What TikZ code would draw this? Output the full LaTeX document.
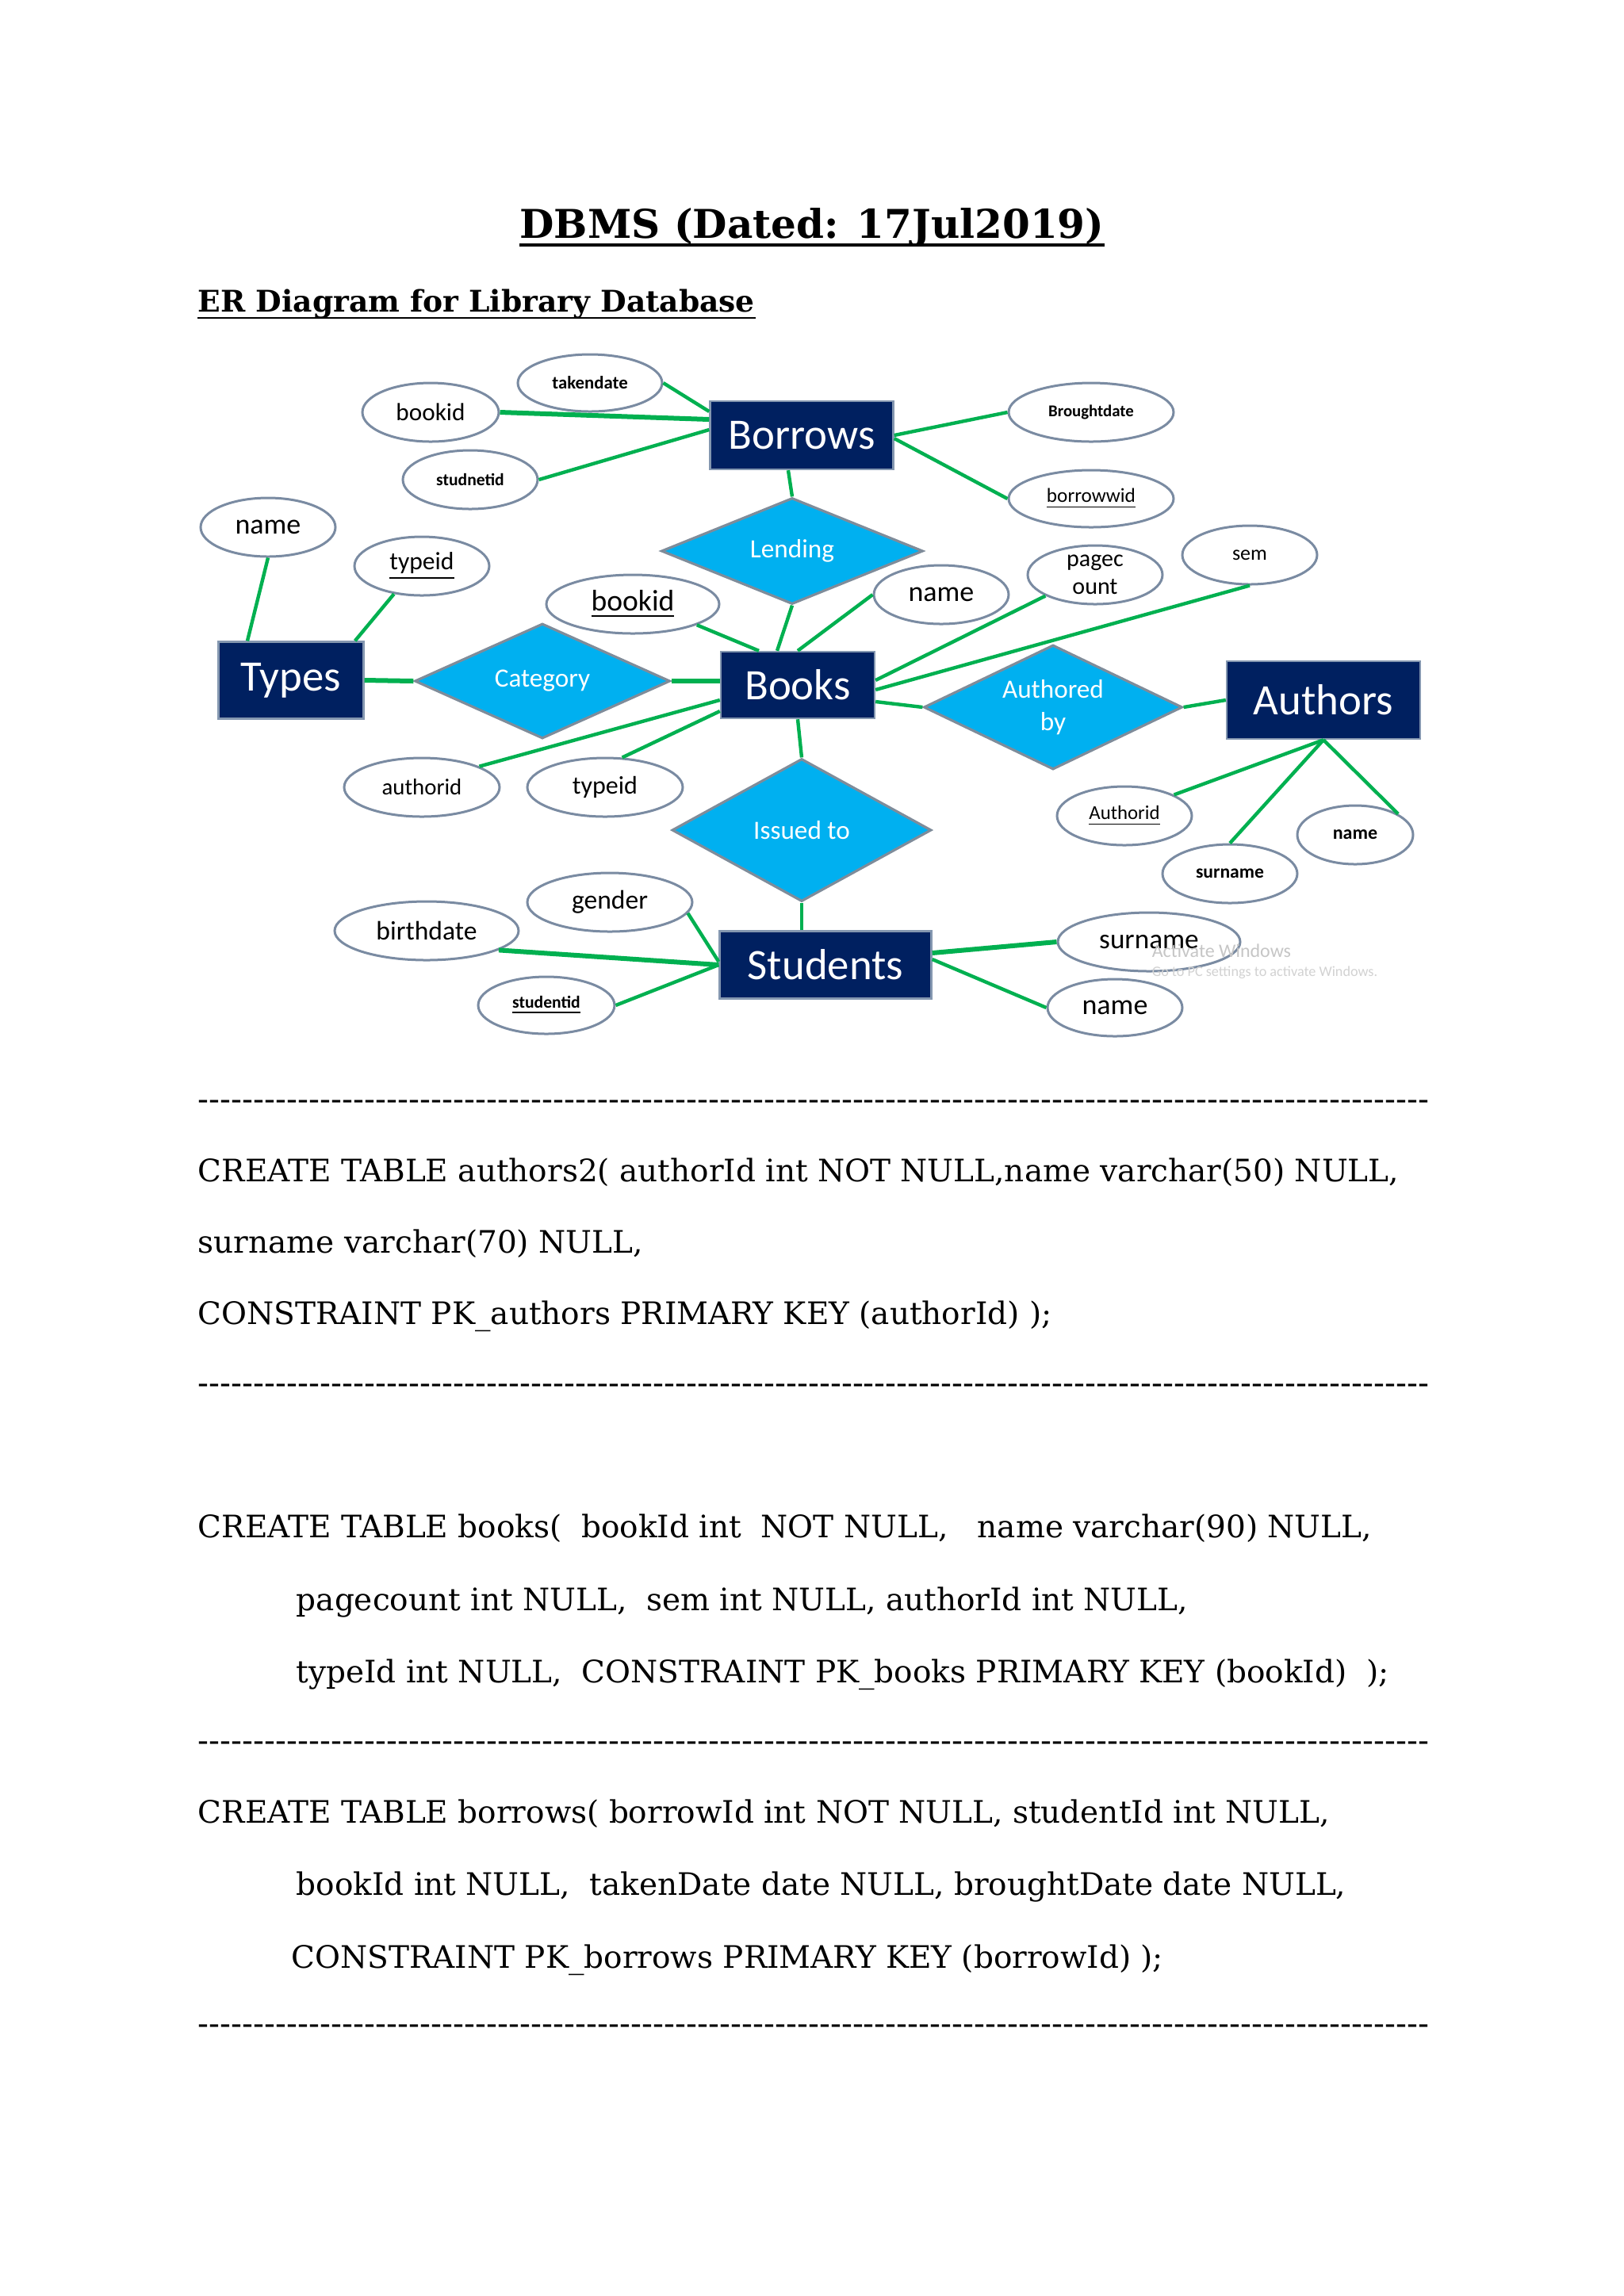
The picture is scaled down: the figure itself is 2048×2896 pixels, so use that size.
\documentclass[tikz,border=0pt]{standalone}
\usepackage{fontspec}
\setmainfont{DejaVu Serif}
\newfontfamily\erfont{Carlito}
\usetikzlibrary{shapes.geometric,calc}
\definecolor{entblue}{HTML}{002060}
\definecolor{entline}{HTML}{8497B0}
\definecolor{relblue}{HTML}{00B0F0}
\definecolor{relline}{HTML}{7F8C9A}
\definecolor{ellline}{HTML}{7A8BA2}
\definecolor{linkgreen}{HTML}{00B050}
\newcommand\ersz[2]{\erfont\fontsize{#1}{#2}\selectfont}
\begin{document}
\begin{tikzpicture}[x=0.25pt, y=-0.25pt,
  entity/.style={rectangle, fill=entblue, draw=entline, line width=0.6pt, text=white, inner sep=0, font=\ersz{13.7}{16}},
  rel/.style={diamond, aspect=2, fill=relblue, draw=relline, line width=0.8pt, text=white, inner sep=0, align=center, font=\ersz{8.3}{10.2}},
  attr/.style={ellipse, fill=white, draw=ellline, line width=0.75pt, inner sep=0, text=black, align=center},
  link/.style={draw=linkgreen, line width=1.1pt},
  thick link/.style={draw=linkgreen, line width=1.5pt},
  body/.style={anchor=base west, inner sep=0, font=\fontsize{9.75}{12}\selectfont},
  dashrow/.style={anchor=base west, inner sep=0, font=\fontsize{10.3}{12}\selectfont}]
\useasboundingbox (0,0) rectangle (2048,2896);
\fill[white] (0,0) rectangle (2048,2896);

% headings
\node[anchor=base, inner sep=0, font=\bfseries\fontsize{12.5}{15}\selectfont] (title) at (1024,300) {DBMS (Dated: 17Jul2019)};
\draw[line width=0.8pt] ($(title.base west)+(0,9)$) -- ($(title.base east)+(0,9)$);
\node[anchor=base west, inner sep=0, font=\bfseries\fontsize{9.4}{11}\selectfont] (subtitle) at (249,393) {ER Diagram for Library Database};
\draw[line width=0.6pt] ($(subtitle.base west)+(0,8)$) -- ($(subtitle.base east)+(0,8)$);

% entities
\node[entity, minimum width=57.75pt, minimum height=21.5pt] (borrows) at (1011,549) {Borrows};
\node[entity, minimum width=48.5pt, minimum height=21pt] (books) at (1006,864) {Books};
\node[entity, minimum width=45.75pt, minimum height=24.25pt] (types) at (367,858) {Types};
\node[entity, minimum width=61pt, minimum height=24.5pt] (authors) at (1669,883) {Authors};
\node[entity, minimum width=66.75pt, minimum height=21.25pt] (students) at (1041,1217) {Students};

% relationships
\node[rel, minimum width=82.5pt, minimum height=33.5pt] (lending) at (999,695) {Lending};
\node[rel, minimum width=80.5pt, minimum height=36.25pt] (category) at (684,859) {Category};
\node[rel, minimum width=81.5pt, minimum height=39.25pt] (authored) at (1328,892) {Authored\\by};
\node[rel, minimum width=81.75pt, minimum height=45pt] (issued) at (1011,1047) {Issued to};

% attributes
\node[attr, minimum width=45.5pt, minimum height=18pt, font=\ersz{5.7}{7}\bfseries] (takendate) at (744,483) {takendate};
\node[attr, minimum width=43pt, minimum height=18.5pt, font=\ersz{7.8}{9}] (bookidb) at (543,520) {bookid};
\node[attr, minimum width=42.5pt, minimum height=18.5pt, font=\ersz{5.4}{7}\bfseries] (studnetid) at (593,605) {studnetid};
\node[attr, minimum width=42.5pt, minimum height=18.5pt, font=\ersz{9}{11}] (namet) at (338,665) {name};
\node[attr, minimum width=42.5pt, minimum height=18.5pt, font=\ersz{7.9}{9}] (typeidt) at (532,714) {\underline{typeid}};
\node[attr, minimum width=54.5pt, minimum height=18.5pt, font=\ersz{9.4}{11}] (bookidbk) at (798,762) {\underline{bookid}};
\node[attr, minimum width=52pt, minimum height=18.5pt, font=\ersz{5.2}{6}\bfseries] (broughtdate) at (1376,520) {Broughtdate};
\node[attr, minimum width=52pt, minimum height=18pt, font=\ersz{6.3}{8}] (borrowwid) at (1376,629) {\underline{borrowwid}};
\node[attr, minimum width=42.5pt, minimum height=18.5pt, font=\ersz{6.5}{8}] (sem) at (1576,700) {sem};
\node[attr, minimum width=42.5pt, minimum height=18.5pt, label={[inner sep=0, align=center, font=\ersz{7.5}{8.75}]center:{pagec\\ount}}] (pagecount) at (1381,725) {};
\node[attr, minimum width=42.5pt, minimum height=18.5pt, font=\ersz{9}{11}] (namebk) at (1187,750) {name};
\node[attr, minimum width=49pt, minimum height=18.5pt, font=\ersz{7.2}{9}] (authorid) at (532,993) {authorid};
\node[attr, minimum width=49pt, minimum height=18.5pt, font=\ersz{8}{10}] (typeidbk) at (763,993) {typeid};
\node[attr, minimum width=52pt, minimum height=18.5pt, font=\ersz{8.4}{10}] (gender) at (769,1138) {gender};
\node[attr, minimum width=58pt, minimum height=18.5pt, font=\ersz{8.4}{10}] (birthdate) at (538,1174) {birthdate};
\node[attr, minimum width=43pt, minimum height=18pt, font=\ersz{5.4}{7}\bfseries] (studentid) at (689,1268) {\underline{studentid}};
\node[attr, minimum width=42.5pt, minimum height=18.5pt, font=\ersz{6.2}{8}] (authorida) at (1418,1029) {\underline{Authorid}};
\node[attr, minimum width=36.5pt, minimum height=18.5pt, font=\ersz{6}{7}\bfseries] (namea) at (1709,1053) {name};
\node[attr, minimum width=42.5pt, minimum height=18.5pt, font=\ersz{5.9}{7}\bfseries] (surnamea) at (1551,1102) {surname};
\node[attr, minimum width=57.5pt, minimum height=18.5pt, font=\ersz{8.8}{10}] (surnames) at (1449,1188) {surname};
\node[attr, minimum width=42.5pt, minimum height=18pt, font=\ersz{9}{11}] (names) at (1406,1271) {name};

% connectors
\draw[link] (takendate.east) -- ($(borrows.west)+(0,-30)$);
\draw[thick link] (bookidb.east) -- ($(borrows.west)+(0,-20)$);
\draw[link] (studnetid.east) -- ($(borrows.west)+(0,-7)$);
\draw[link] ($(borrows.south)+(-17,0)$) -- (lending.north);
\draw[link] (borrows.east) -- (broughtdate.west);
\draw[link] ($(borrows.east)+(0,4)$) -- (borrowwid.west);
\draw[link] (namet.south) -- ($(types.north)+(-55,0)$);
\draw[link] (typeidt.225) -- ($(types.north east)+(-12,0)$);
\draw[thick link] (types.east) -- (category.west);
\draw[thick link] (category.east) -- (category.east -| books.west);
\draw[link] (bookidbk.-18) -- ($(books.north)+(-49,0)$);
\draw[link] (lending.south) -- ($(books.north)+(-26,0)$);
\draw[link] (namebk.west) -- (books.north);
\draw[link] (pagecount.203) -- ($(books.east)+(0,-6)$);
\draw[link] (sem.south) -- ($(books.east)+(0,6)$);
\draw[link] (authorid.20) -- ($(books.west)+(0,19)$);
\draw[link] (typeidbk.60) -- ($(books.west)+(0,33)$);
\draw[link] (books.south) -- (issued.north);
\draw[link] (issued.south) -- (issued.south |- students.north);
\draw[link] (gender.-8) -- ($(students.west)+(0,-4)$);
\draw[thick link] (birthdate.-15) -- (students.west);
\draw[link] (studentid.east) -- (students.west);
\draw[link] ($(books.east)+(0,21)$) -- (authored.west);
\draw[link] (authored.east) -- (authors.west);
\draw[link] (authors.south) -- (authorida.23);
\draw[link] (authors.south) -- (surnamea.north);
\draw[link] (authors.south) -- (namea.26);
\draw[thick link] ($(students.east)+(0,-15)$) -- (surnames.west);
\draw[link] ($(students.east)+(0,-7)$) -- (names.west);

% watermark
\node[anchor=base west, inner sep=0, text=gray!45, font=\ersz{6}{7}] (wm1) at (1452,1207) {Activate Windows};
\node[anchor=base west, inner sep=0, text=gray!35, font=\ersz{4.55}{5}] (wm2) at (1452,1231) {Go to PC settings to activate Windows.};

% SQL text
\node[dashrow] (d1) at (249,1400) {\hbox to 388pt{\xleaders\hbox{-}\hfill}};
\node[body] (t1) at (249,1490) {CREATE TABLE authors2( authorId int NOT NULL,name varchar(50) NULL,};
\node[body] (t2) at (249,1580) {surname varchar(70) NULL,};
\node[body] (t3) at (249,1670) {CONSTRAINT PK\_authors PRIMARY KEY (authorId) );};
\node[dashrow] (d2) at (249,1758) {\hbox to 388pt{\xleaders\hbox{-}\hfill}};
\node[body] (t4) at (249,1939) {CREATE TABLE books(\ \ bookId int\ \ NOT NULL,\ \ \ name varchar(90) NULL,};
\node[body] (t5) at (373,2031) {pagecount int NULL,\ \ sem int NULL, authorId int NULL,};
\node[body] (t6) at (373,2122) {typeId int NULL,\ \ CONSTRAINT PK\_books PRIMARY KEY (bookId)\ \ );};
\node[dashrow] (d3) at (249,2209) {\hbox to 388pt{\xleaders\hbox{-}\hfill}};
\node[body] (t7) at (249,2299) {CREATE TABLE borrows( borrowId int NOT NULL, studentId int NULL,};
\node[body] (t8) at (373,2390) {bookId int NULL,\ \ takenDate date NULL, broughtDate date NULL,};
\node[body] (t9) at (367,2482) {CONSTRAINT PK\_borrows PRIMARY KEY (borrowId) );};
\node[dashrow] (d4) at (249,2566) {\hbox to 388pt{\xleaders\hbox{-}\hfill}};
\end{tikzpicture}
\end{document}
